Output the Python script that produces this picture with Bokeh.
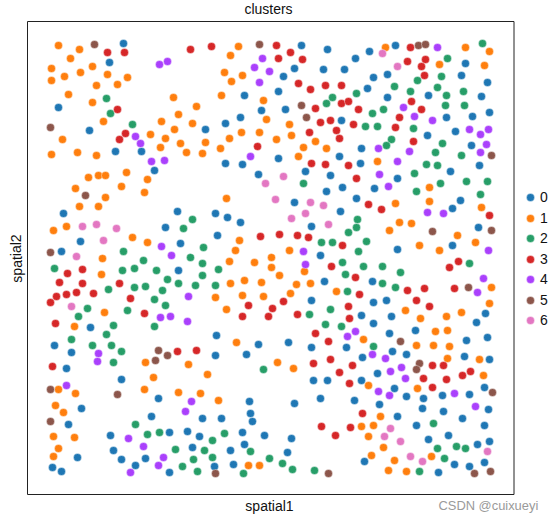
from bokeh.embed import file_html
from bokeh.models import ColumnDataSource, Label, Legend, LegendItem, Range1d
from bokeh.plotting import figure
from bokeh.resources import INLINE

categories = ["0", "1", "2", "3", "4", "5", "6"]
colors = ["#1f77b4", "#ff7f0e", "#279e68", "#d62728", "#aa40fc", "#8c564b", "#e377c2"]
legend_rows = [197, 217.5, 238, 258.5, 279, 299.5, 320]

# (spatial1, spatial2); spatial2 grows downwards, as in a tissue image
cluster_0 = [(123,43),(109,62),(58,107),(89,130),(244,95),(261,110),(240,117),(225,123),(205,129),
(301,45),(327,49),(294,68),(323,69),(344,69),(283,76),(355,58),(369,51),(395,45),(465,63),(387,74),(373,77),(461,75),(487,82),(278,91),(367,88),(387,97),(428,95),(481,96),(285,109),(489,112),(472,116),(446,117),(341,120),(455,131),(427,135),
(115,151),(141,151),(225,163),(242,164),(154,170),(258,174),(63,213),(177,211),(215,213),(227,217),(240,222),(165,227),(217,235),(80,241),(180,243),(61,251),
(471,145),(361,148),(278,158),(339,156),(360,163),(479,165),(305,171),(450,171),(330,175),(397,178),(342,187),(374,188),(326,191),(356,198),(294,202),(460,200),(452,208),(340,211),(311,226),(478,227),(452,245),(397,249),(320,255),
(178,270),(90,327),(216,335),(54,345),(258,344),(71,352),(215,355),(246,354),(66,368),(121,379),
(324,281),(372,281),(311,300),(373,302),(386,300),(485,313),(361,315),(391,316),(476,322),(373,323),(415,330),(389,333),(487,337),(466,340),(288,342),(311,347),(346,347),(392,351),(406,354),(362,357),(464,356),(489,359),(377,373),(313,380),(327,380),(361,380),
(158,398),(249,401),(81,408),(250,413),(151,416),(202,418),(221,418),(252,421),(68,424),(169,432),(187,431),(242,432),(264,435),(110,435),(199,436),(244,444),(192,447),(113,450),(230,450),(77,457),(121,459),(145,458),(135,465),(52,467),(214,466),(233,464),(61,471),(169,472),
(394,388),(484,387),(469,394),(442,395),(406,396),(423,398),(320,398),(354,400),(294,403),(379,404),(488,409),(422,408),(443,411),(397,416),(462,418),(484,425),(416,425),(291,438),(448,435),(428,439),(489,441),(477,444),(287,452),(364,461),(454,464),(469,466),(484,462),(438,472)]

cluster_1 = [(58,45),(79,49),(70,58),(51,68),(64,76),(80,72),(92,66),(51,80),(107,74),(127,77),(96,85),(117,84),(68,94),(92,102),(103,121),(62,139),(238,46),(230,55),(224,72),(242,75),(231,81),(221,95),(263,100),(173,97),(196,106),(178,114),(266,119),(161,121),(192,123),(174,129),(150,134),(165,138),(229,138),(241,132),(259,132),
(385,47),(465,47),(489,51),(439,64),(484,65),(289,124),(291,135),(276,139),(315,141),
(180,143),(205,142),(160,147),(186,152),(202,153),(220,148),(51,154),(77,152),(96,155),(126,172),(88,177),(98,175),(105,175),(147,179),(121,186),(75,188),(144,192),(105,197),(226,198),(79,206),(98,206),(66,226),(53,230),(132,237),(239,240),(147,242),(235,250),(102,258),(229,261),(254,262),(271,257),
(303,147),(326,148),(298,156),(377,161),(429,187),(395,203),(429,201),(481,207),(399,222),(411,223),(389,230),(457,235),(475,242),(419,245),(289,250),(439,250),
(271,267),(101,274),(230,283),(244,280),(261,282),(215,297),(242,295),(263,296),(226,309),(104,312),(74,326),(236,342),(145,362),(188,364),(207,374),(153,377),
(304,271),(279,275),(296,284),(310,283),(491,287),(336,291),(290,293),(489,303),(405,310),(461,312),(446,316),(420,318),(447,330),(435,331),(363,339),(416,345),(433,345),(449,346),(447,358),(479,359),(277,362),(293,368),(483,375),
(58,389),(75,393),(144,389),(178,392),(200,393),(218,400),(55,405),(63,412),(53,436),(74,437),(58,448),(53,456),(248,465),(259,465),
(368,385),(417,388),(380,416),(361,426),(373,425),(368,436),(383,447),(371,455),(431,456),(394,460),(388,470),(406,471)]

cluster_2 = [(106,98),(110,113),(132,124),(482,43),(447,58),(417,80),(441,76),(394,86),(410,91),(437,87),(463,91),(356,93),(332,97),(446,95),(326,103),(445,105),(464,105),(383,109),(372,113),(365,126),(377,126),(413,128),(391,139),
(192,219),(183,228),(203,247),(123,251),(143,260),(190,257),
(386,145),(442,143),(435,152),(461,155),(426,164),(437,165),(414,173),(466,181),(487,181),(303,183),(440,183),(416,191),(480,194),(357,219),(356,227),(348,232),(321,242),(332,242),(366,241),(358,251),
(202,263),(54,268),(122,270),(134,268),(156,270),(218,269),(202,275),(167,279),(178,283),(134,287),(145,286),(195,285),(215,285),(108,289),(162,290),(154,299),(165,305),(87,308),(127,310),(78,316),(113,325),(154,326),(106,334),(71,339),(92,345),(111,345),(121,351),(113,362),(263,369),
(342,262),(363,266),(382,266),(400,272),(469,263),(345,274),(382,283),(395,287),(347,291),(330,309),(309,314),(325,324),(341,326),(373,346),
(135,424),(159,432),(147,434),(224,433),(212,440),(175,449),(204,450),(250,451),(212,457),(269,458),(193,459),(182,466),(197,471),(243,473),
(433,423),(456,446),(465,448),(437,448),(444,458),(282,463),(292,469),(314,470),(419,471)]

cluster_3 = [(107,52),(124,52),(117,109),(125,133),(119,139),(190,49),(211,46),(276,45),(290,52),(278,58),(302,59),(410,47),(407,61),(425,59),(421,66),(424,75),(298,83),(310,89),(325,85),(341,85),(341,103),(348,101),(411,101),(315,108),(358,109),(421,109),(399,117),(320,122),(330,120),(353,124),(395,127),(336,130),(309,132),(339,138),(413,141),
(257,146),(260,236),
(311,163),(325,164),(348,165),(356,178),(368,204),(381,209),(489,215),(279,234),(297,235),(308,237),(342,245),(458,261),
(67,273),(82,269),(59,282),(82,283),(119,283),(76,292),(66,294),(56,296),(93,293),(130,298),(50,302),(248,305),(144,313),(242,316),(268,316),(55,323),(177,351),(196,350),(52,366),
(331,266),(449,267),(355,277),(407,290),(424,288),(454,288),(359,294),(283,301),(416,300),(429,306),(348,306),(272,308),(297,314),(349,318),(315,333),(328,341),(330,359),(313,363),(352,365),(432,365),(443,365),(339,372),(470,371),(462,375),(423,378),(446,379),
(349,383),(432,387),(362,413),(321,426),(350,427),(335,435)]

cluster_4 = [(135,136),(159,64),(167,61),(262,58),(254,67),(269,71),(259,82),(437,47),(403,107),(414,116),(432,120),(469,129),(488,129),(480,134),
(140,143),(151,161),(164,160),(250,156),(161,246),(171,255),
(378,148),(486,144),(409,151),(480,152),(397,161),(379,174),(388,186),(427,212),(443,213),(303,251),(488,250),
(188,296),(170,316),(160,317),(187,321),(98,353),(97,361),
(305,264),(483,278),(477,292),(355,331),(347,336),(372,354),(385,358),(401,367),(390,371),(405,378),
(66,385),(191,401),(185,411),(128,438),(143,446),(163,457),(158,465),(130,472),
(378,391),(389,395),(454,393),(475,406)]

cluster_5 = [(94,44),(50,127),(259,44),(418,45),(425,44),(301,105),(306,117),(85,195),(50,252),(491,155),(432,231),(491,230),(158,350),(167,355),(155,360),(468,287),(400,341),(419,363),(416,369),(50,389),(117,394),(50,421),(215,473),(492,392),(328,473),(474,473),(490,471)]

cluster_6 = [(382,53),(397,66),(265,183),(82,226),(96,224),(116,228),(103,240),(76,256),(283,176),(275,199),(310,202),(323,205),(305,213),(291,218),(328,224),(71,306),(390,428),(384,436),(400,441),(487,451),(410,456),(422,461)]

clusters = [cluster_0, cluster_1, cluster_2, cluster_3, cluster_4, cluster_5, cluster_6]
FONT = "Liberation Sans"
HEIGHT = 521

p = figure(width=553, height=HEIGHT, output_backend="svg", toolbar_location=None,
           x_range=Range1d(0, 553), y_range=Range1d(HEIGHT, 0),
           x_axis_location=None, y_axis_location=None,
           min_border=0)
p.grid.visible = False
p.outline_line_color = None
p.background_fill_color = "white"

# the data panel's box
p.quad(left=[27], right=[513.5], top=[21], bottom=[494], fill_color=None,
       line_color="#222222", line_width=1)

for name, pts, col, row in zip(categories, clusters, colors, legend_rows):
    src = ColumnDataSource({"spatial1": [a for a, _ in pts], "spatial2": [b for _, b in pts]})
    r = p.scatter("spatial1", "spatial2", source=src, size=8, marker="circle",
                  fill_color=col, line_color="white", line_width=0.4)
    # one legend per row: Bokeh's own legend spacing takes whole pixels only
    legend = Legend(items=[LegendItem(label=name, renderers=[r])],
                    location=(520, HEIGHT - row - 10), orientation="vertical",
                    border_line_color=None, background_fill_alpha=0, padding=0, margin=0,
                    spacing=0, glyph_width=20, glyph_height=20, label_height=20, label_width=8,
                    label_standoff=-1, label_text_font=FONT, label_text_font_size="14px",
                    label_text_color="#111111")
    p.add_layout(legend, "center")

for text, x, y, angle, size, color, align in [
    ("clusters", 268, 8, 0, "14px", "#111111", "center"),
    ("spatial1", 269, 505, 0, "14px", "#111111", "center"),
    ("spatial2", 16, 258, 1.5708, "14px", "#111111", "center"),
    ("CSDN @cuixueyi", 438, 505, 0, "12.9px", "#9a9a9a", "left"),
]:
    p.add_layout(Label(x=x, y=y, text=text, angle=angle, text_font=FONT, text_font_size=size,
                       text_color=color, text_align=align, text_baseline="middle"))

open("out.html", "w").write(file_html(p, INLINE))
